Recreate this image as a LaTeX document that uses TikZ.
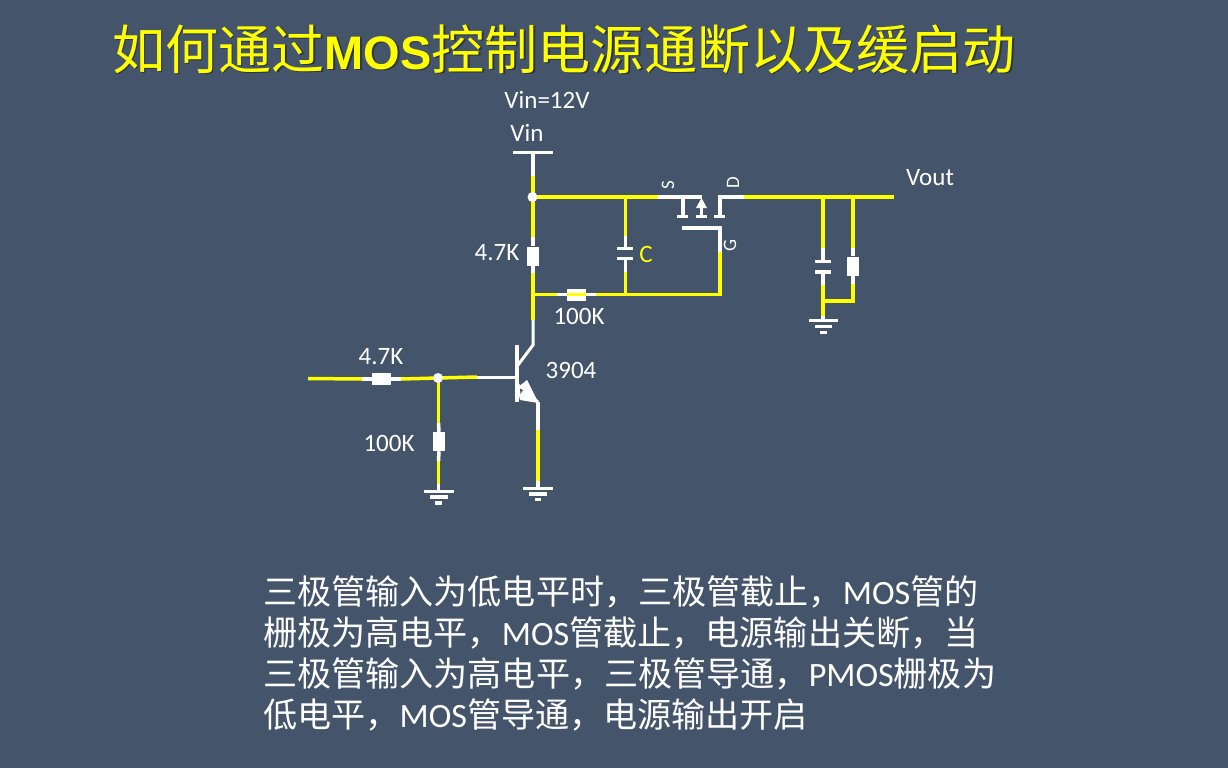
\documentclass[tikz,border=0pt]{standalone}
\usepackage{fontspec}
\setmainfont{Carlito}
\newfontfamily\cjk{Noto Sans CJK SC}
\newfontfamily\arialb{Liberation Sans}[FakeBold=0,BoldFont={Liberation Sans Bold}]
\definecolor{bgc}{HTML}{44546A}
\definecolor{yw}{HTML}{FFFF00}
\definecolor{shd}{HTML}{2A3442}
\newcommand{\titletext}{\fontsize{53.1}{53.1}\selectfont\cjk 如何通过{\fontsize{47}{47}\selectfont\arialb\bfseries MOS}控制电源通断以及缓启动}
\newcommand{\cn}[1]{{\fontsize{34.1}{34.1}\selectfont\cjk #1}}
\newcommand{\la}[1]{{\fontsize{34.1}{34.1}\selectfont #1}}
\tikzset{
 x=1pt,y=-1pt,
 yw wire/.style={draw=yw,line width=3.5pt},
 wh wire/.style={draw=white,line width=3.5pt},
 thin wire/.style={draw=white,line width=3pt},
 res h/.style={fill=white,draw=none,minimum width=19pt,minimum height=12pt,inner sep=0pt},
 res v/.style={fill=white,draw=none,minimum width=12pt,minimum height=19pt,inner sep=0pt},
 dot/.style={circle,fill=white,draw=none,minimum size=10pt,inner sep=0pt},
 lab/.style={text=white,font=\fontsize{25}{25}\selectfont,inner sep=0pt},
 pin/.style={text=white,font=\fontsize{19}{19}\selectfont,inner sep=0pt,rotate=90},
 body/.style={text=white,anchor=west,inner sep=0pt},
}
\begin{document}
\begin{tikzpicture}
\useasboundingbox (0,0) rectangle (1228,768);
\fill[bgc] (0,0) rectangle (1228,768);
% title
\node[text=shd,anchor=west,inner sep=0pt] (titleshadow) at (113.5,50.5) {\titletext};
\node[text=yw,anchor=west,inner sep=0pt] (title) at (112,49) {\titletext};
% parts
\coordinate (j1) at (532.5,197);
\coordinate (j2) at (438,378);
\node[res v] (r1) at (533,256) {};
\node[res h] (r2) at (576.5,294.5) {};
\node[res h] (r3) at (381.5,379) {};
\node[res v] (r4) at (439,441.5) {};
\node[res v] (r5) at (853,266) {};
% named points
\coordinate (vintop) at (533,152);
\coordinate (vinw) at (533,176);
\coordinate (r1a) at (533,237);
\coordinate (r1b) at (533,273);
\coordinate (n2) at (533,294.5);
\coordinate (coltop) at (533,320);
\coordinate (colbot) at (533,345);
\coordinate (colb) at (518,365);
\coordinate (sw) at (658,197);
\coordinate (se) at (702,197);
\coordinate (ds) at (720,197);
\coordinate (de) at (744,197);
\coordinate (gl) at (682,228);
\coordinate (gc) at (720,228);
\coordinate (gy) at (720,252);
\coordinate (gb) at (720,294.5);
\coordinate (c1t) at (625.5,197);
\coordinate (c1b) at (625.5,294.5);
\coordinate (vout) at (894,197);
\coordinate (c2t) at (823,197);
\coordinate (r5t) at (853,197);
\coordinate (r5j) at (853,301);
\coordinate (c2j) at (823,301);
% yellow wiring
\draw[yw wire] (vinw) -- (533,197) -- (r1a);
\draw[yw wire] (j1) -- (sw);
\draw[yw wire] (de) -- (vout);
\draw[yw wire] (r1b) -- (coltop);
\draw[yw wire] (n2) -- (gb) -- (gy);
\draw[yw wire] (c1t) -- (625.5,236);
\draw[yw wire] (625.5,272) -- (c1b);
\draw[yw wire] (c2t) -- (823,248);
\draw[yw wire] (823,285) -- (823,316);
\draw[yw wire] (r5t) -- (853,248);
\draw[yw wire] (853,284) -- (r5j) -- (c2j);
\draw[yw wire] (308,378.5) -- (362,379);
\draw[yw wire] (401,379) -- (j2) -- (477,377);
\draw[yw wire] (438.5,378) -- (438.5,423);
\draw[yw wire] (438.5,461) -- (438.5,484);
\draw[yw wire] (538,430) -- (538,481);
% white leads
\draw[wh wire] (vintop) -- (vinw);
\draw[wh wire] (r1a) -- (r1.north);
\draw[wh wire] (r1.south) -- (r1b);
\draw[wh wire] (557,294.5) -- (r2.west);
\draw[wh wire] (r2.east) -- (596,294.5);
\draw[wh wire] (362,379) -- (r3.west);
\draw[wh wire] (r3.east) -- (401,379);
\draw[wh wire] (438.5,423) -- (r4.north);
\draw[wh wire] (r4.south) -- (438.5,461);
\draw[wh wire] (853,248) -- (r5.north);
\draw[wh wire] (r5.south) -- (853,284);
% Vin bar
\draw[wh wire] (513,152.5) -- (553,152.5);
% capacitors
\draw[wh wire] (625.5,236) -- (625.5,248);
\draw[wh wire] (617,248.5) -- (633,248.5);
\draw[wh wire] (617,258.5) -- (633,258.5);
\draw[wh wire] (625.5,258) -- (625.5,272);
\draw[wh wire] (823,248) -- (823,261);
\draw[wh wire] (815,261.5) -- (831,261.5);
\draw[wh wire] (815,272) -- (831,272);
\draw[wh wire] (823,272) -- (823,285);
% MOSFET
\draw[wh wire] (sw) -- (se);
\draw[wh wire] (683,197) -- (683,216);
\draw[wh wire] (677,216.5) -- (688,216.5);
\draw[wh wire] (696,216.5) -- (707,216.5);
\draw[wh wire] (701.5,207) -- (701.5,216);
\fill[white] (701.5,198) -- (707,208) -- (696,208) -- cycle;
\draw[wh wire] (714,216.5) -- (725,216.5);
\draw[wh wire] (de) -- (ds) -- (720,216);
\draw[wh wire] (gl) -- (gc) -- (gy);
% BJT
\draw[thin wire] (coltop) -- (colbot) -- (colb);
\draw[wh wire] (517,345) -- (517,402);
\draw[thin wire] (477,377) -- (517,377);
\draw[thin wire] (518,385) -- (538,402);
\fill[white] (538.5,403) -- (527,380) -- (517,388) -- (520,400) -- cycle;
\fill[bgc] (520,388.5) -- (523,390) -- (520.5,394) -- cycle;
\draw[wh wire] (538,402) -- (538,430);
\draw[wh wire] (538,481) -- (538,488);
% grounds
\draw[wh wire] (523,488.5) -- (553,488.5);
\draw[wh wire] (529,494) -- (547,494);
\draw[wh wire] (535,499.5) -- (541,499.5);
\draw[wh wire] (438.5,484) -- (438.5,491);
\draw[wh wire] (424,491.5) -- (454,491.5);
\draw[wh wire] (430,497) -- (448,497);
\draw[wh wire] (435,503) -- (442,503);
\draw[wh wire] (823,316) -- (823,320);
\draw[wh wire] (809,320.5) -- (838,320.5);
\draw[wh wire] (815,326.5) -- (832,326.5);
\draw[wh wire] (820,332.5) -- (827,332.5);
% junction dots
\node[dot] (d1) at (j1) {};
\node[dot] (d2) at (j2) {};
% labels
\node[lab] (l1) at (547,100) {Vin=12V};
\node[lab] (l2) at (527,133) {Vin};
\node[lab] (l3) at (930,178) {Vout};
\node[lab] (l4) at (497,253) {4.7K};
\node[lab,text=yw] (l5) at (646,254) {C};
\node[lab] (l6) at (579,316) {100K};
\node[lab] (l7) at (381,357) {4.7K};
\node[lab] (l8) at (571,370) {3904};
\node[lab] (l9) at (389,443) {100K};
\node[pin] (ps) at (668,185) {S};
\node[pin] (pd) at (733,183) {D};
\node[pin] (pg) at (730,246) {G};
% body
\node[body] (b1) at (263,592) {\cn{三极管输入为低电平时，三极管截止，}\la{MOS}\cn{管的}};
\node[body] (b2) at (263,633) {\cn{栅极为高电平，}\la{MOS}\cn{管截止，电源输出关断，当}};
\node[body] (b3) at (263,674) {\cn{三极管输入为高电平，三极管导通，}\la{PMOS}\cn{栅极为}};
\node[body] (b4) at (263,715) {\cn{低电平，}\la{MOS}\cn{管导通，电源输出开启}};
\end{tikzpicture}
\end{document}
